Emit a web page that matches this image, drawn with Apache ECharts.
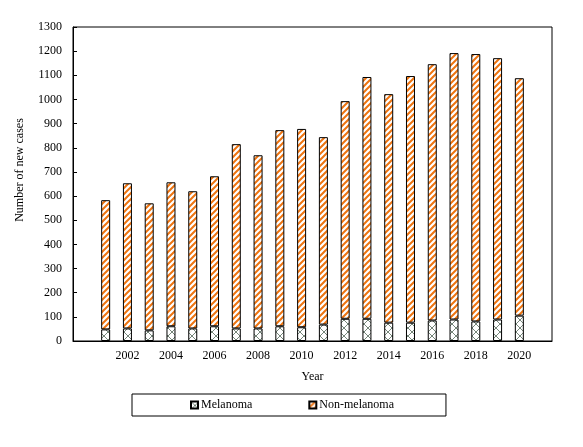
<!DOCTYPE html>
<html>
<head>
<meta charset="utf-8">
<script src="https://cdn.jsdelivr.net/npm/echarts@6/dist/echarts.min.js"></script>
<style>
  html, body { margin: 0; padding: 0; background: #fff; }
  #main { width: 583px; height: 447px; }
</style>
</head>
<body>
<div id="main"></div>
<script>
// years on the axis (2000 and 2021 are empty padding slots)
var years = ["2000", "2001", "2002", "2003", "2004", "2005", "2006", "2007", "2008", "2009", "2010",
  "2011", "2012", "2013", "2014", "2015", "2016", "2017", "2018", "2019", "2020", "2021"];
var melanoma = [null, 48, 52, 44, 61, 52, 61, 52, 52, 61, 57, 68, 92, 92, 76, 76, 85, 89, 81, 89, 105, null];
var nonMelanoma = [null, 535, 601, 526, 596, 568, 621, 763, 717, 812, 821, 776, 901, 1001, 946, 1021, 1061, 1103, 1107, 1082, 983, null];
var shownYears = ["2002", "2004", "2006", "2008", "2010", "2012", "2014", "2016", "2018", "2020"];

var FONT = "'Liberation Serif', 'Times New Roman', serif";

// orange "/" stripes
function stripePattern() {
  var c = document.createElement("canvas");
  c.width = 6; c.height = 6;
  var ctx = c.getContext("2d");
  ctx.fillStyle = "#fff";
  ctx.fillRect(0, 0, 6, 6);
  ctx.strokeStyle = "#ee7410";
  ctx.lineWidth = 2;
  ctx.beginPath();
  ctx.moveTo(-1, 7); ctx.lineTo(7, -1);
  ctx.moveTo(-4, 4); ctx.lineTo(4, -4);
  ctx.moveTo(2, 10); ctx.lineTo(10, 2);
  ctx.stroke();
  return c;
}

// grey cross hatch
function hatchPattern() {
  var c = document.createElement("canvas");
  c.width = 8; c.height = 8;
  var ctx = c.getContext("2d");
  ctx.fillStyle = "#fff";
  ctx.fillRect(0, 0, 8, 8);
  ctx.strokeStyle = "#76867a";
  ctx.lineWidth = 1;
  ctx.beginPath();
  ctx.moveTo(0, 0); ctx.lineTo(8, 8);
  ctx.moveTo(0, 8); ctx.lineTo(8, 0);
  ctx.stroke();
  return c;
}

var chart = echarts.init(document.getElementById("main"));

chart.setOption({
  backgroundColor: "#fff",
  animation: false,
  textStyle: { fontFamily: FONT, color: "#000" },
  grid: {
    left: 73, right: 31, top: 27, bottom: 106,
    show: true, borderColor: "#000", borderWidth: 1
  },
  legend: {
    left: 132, top: 394,
    padding: [5, 52, 5, 58],
    borderColor: "#000", borderWidth: 1,
    itemWidth: 7, itemHeight: 7, itemGap: 56,
    textStyle: { fontFamily: FONT, fontSize: 12, color: "#000", padding: [0, 0, 0, -2] },
    data: [
      { name: "Melanoma", icon: "rect" },
      { name: "Non-melanoma", icon: "rect" }
    ]
  },
  xAxis: {
    type: "category",
    data: years,
    name: "Year",
    nameLocation: "middle",
    nameGap: 30,
    nameTextStyle: { fontFamily: FONT, fontSize: 12, color: "#000" },
    axisLine: { lineStyle: { color: "#000", width: 1 } },
    axisTick: { show: false },
    axisLabel: {
      fontFamily: FONT, fontSize: 12, color: "#000", margin: 9,
      interval: function (i, v) { return shownYears.indexOf(v) >= 0; }
    }
  },
  yAxis: {
    type: "value",
    min: 0, max: 1300, interval: 100,
    name: "Number of new cases",
    nameLocation: "middle",
    nameGap: 47,
    nameTextStyle: { fontFamily: FONT, fontSize: 12, color: "#000", padding: [0, 0, 0, 28] },
    axisLine: { show: true, lineStyle: { color: "#000", width: 1 } },
    axisTick: { show: true, inside: true, length: 4, lineStyle: { color: "#000" } },
    axisLabel: {
      fontFamily: FONT, fontSize: 12, color: "#000", margin: 11,
      formatter: function (v) { return String(v); }
    },
    splitLine: { show: false }
  },
  series: [
    {
      name: "Melanoma",
      type: "bar",
      stack: "cases",
      barWidth: 9,
      data: melanoma,
      itemStyle: {
        color: { image: hatchPattern(), repeat: "repeat" },
        borderColor: "#000", borderWidth: 1
      }
    },
    {
      name: "Non-melanoma",
      type: "bar",
      stack: "cases",
      barWidth: 9,
      data: nonMelanoma,
      itemStyle: {
        color: { image: stripePattern(), repeat: "repeat" },
        borderColor: "#000", borderWidth: 1
      }
    }
  ]
});
</script>
</body>
</html>
